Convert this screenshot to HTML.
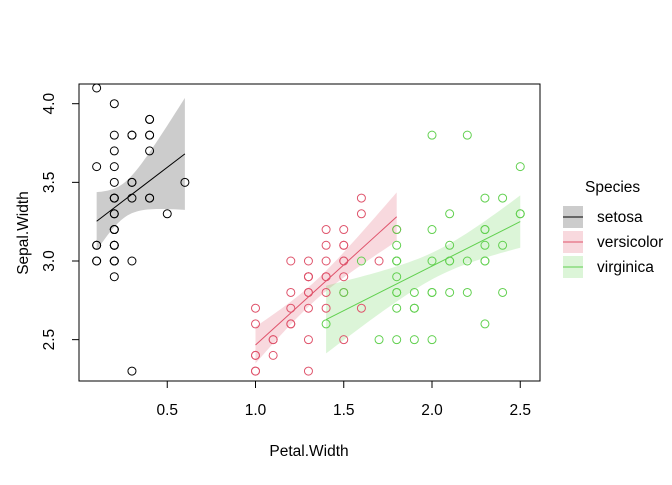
<!DOCTYPE html>
<html><head><meta charset="utf-8"><style>
body{margin:0;background:#fff;}
svg text{font-family:"Liberation Sans",Arial,sans-serif;font-size:15.5px;fill:#000;}
</style></head><body>
<svg id="chart" width="672" height="480" viewBox="0 0 672 480">
<g id="bands"></g>
<g id="lines"></g>
<g id="points"></g>
<rect x="79" y="84" width="461" height="297" fill="none" stroke="#000"/>
<g id="xaxis"></g>
<g id="yaxis"></g>
<text x="309" y="456" text-anchor="middle">Petal.Width</text>
<text transform="translate(28,233) rotate(-90)" text-anchor="middle">Sepal.Width</text>
<g id="legend">
<text x="585" y="192">Species</text>
</g>
</svg>
<script>
const species = ["setosa","versicolor","virginica"];
const colors = ["#000000","#DF536B","#61D04F"];
const fills = ["rgba(0,0,0,0.2)","rgba(223,83,107,0.22)","rgba(97,208,79,0.22)"];
const setosaPW = [0.1,0.1,0.1,0.1,0.1,0.1,
 0.2,0.2,0.2,0.2,0.2,0.2,0.2,0.2,0.2,0.2,0.2,0.2,0.2,0.2,0.2,0.2,0.2,0.2,0.2,0.2,
 0.3,0.3,0.3,0.3,0.3,0.3,0.3,
 0.4,0.4,0.4,0.4,0.4,0.4,0.4,0.5,0.6];
const setosaSW = [4.1,3.6,3.1,3.0,3.0,3.1,
 4.0,3.8,3.7,3.6,3.5,3.4,3.3,3.2,3.1,3.0,2.9,3.4,3.0,3.1,3.2,3.0,3.1,3.3,3.4,3.2,
 3.8,3.5,3.4,3.0,2.3,3.8,3.5,
 3.9,3.9,3.8,3.7,3.4,3.4,3.8,3.3,3.5];
const versiPW = [1.0,1.0,1.0,1.0,1.0,1.0,1.1,1.1,1.1,1.2,1.2,1.2,1.2,1.2,1.3,1.3,1.3,1.3,1.3,1.3,1.3,1.3,1.3,1.4,1.4,1.4,1.4,1.4,1.4,1.4,1.5,1.5,1.5,1.5,1.5,1.5,1.5,1.5,1.6,1.6,1.6,1.7,1.8];
const versiSW = [2.7,2.6,2.4,2.3,2.3,2.4,2.5,2.4,2.5,3.0,2.8,2.7,2.6,2.6,3.0,2.9,2.8,2.7,2.5,2.3,2.9,2.8,2.9,3.2,3.1,3.0,2.9,2.8,2.7,2.9,3.2,3.1,3.0,2.9,2.8,2.5,3.1,3.0,3.4,3.3,2.7,3.0,3.2];
const virgPW = [1.4,1.5,1.6,1.7,1.8,1.8,1.8,1.8,1.8,1.8,1.8,1.8,1.8,1.8,1.9,1.9,1.9,1.9,2.0,2.0,2.0,2.0,2.0,2.0,2.1,2.1,2.1,2.1,2.1,2.2,2.2,2.2,2.3,2.3,2.3,2.3,2.3,2.3,2.3,2.4,2.4,2.4,2.5,2.5,2.5];
const virgSW = [2.6,2.8,3.0,2.5,3.2,3.1,3.0,2.9,2.8,2.7,2.5,3.0,2.8,3.0,2.8,2.7,2.5,2.7,3.8,3.2,3.0,2.8,2.5,2.8,3.3,3.1,3.0,2.8,3.0,3.8,3.0,2.8,3.4,3.2,3.1,3.0,2.6,3.0,3.2,3.4,3.1,2.8,3.6,3.3,3.3];
const xTicks = [0.5,1.0,1.5,2.0,2.5];
const xTickLabels = ["0.5","1.0","1.5","2.0","2.5"];
const yTicks = [2.5,3.0,3.5,4.0];
const yTickLabels = ["2.5","3.0","3.5","4.0"];

const NS="http://www.w3.org/2000/svg";
const X = v => 79 + 176.5*v;
const Y = v => 261 - (v-3)*157.3;
function mk(tag, attrs, parent){const e=document.createElementNS(NS,tag);for(const k in attrs)e.setAttribute(k,attrs[k]);parent.appendChild(e);return e;}

const xa=document.getElementById('xaxis'), ya=document.getElementById('yaxis');
mk('line',{x1:X(xTicks[0]),x2:X(xTicks[xTicks.length-1]),y1:381,y2:381,stroke:'#000'},xa);
xTicks.forEach((t,i)=>{
  const l=mk('line',{x1:X(t),x2:X(t),y1:381,y2:388,stroke:'#000'},xa);
  
  
  const tx=mk('text',{x:X(t),y:415,'text-anchor':'middle'},xa);tx.textContent=xTickLabels[i];
  
  
});
mk('line',{x1:79,x2:79,y1:Y(yTicks[0]),y2:Y(yTicks[yTicks.length-1]),stroke:'#000'},ya);
yTicks.forEach((t,i)=>{
  const l=mk('line',{x1:72,x2:79,y1:Y(t),y2:Y(t),stroke:'#000'},ya);
  
  
  const tx=mk('text',{transform:`translate(54,${Y(t)}) rotate(-90)`,'text-anchor':'middle'},ya);tx.textContent=yTickLabels[i];
  
  
});

const groups=[[setosaPW,setosaSW],[versiPW,versiSW],[virgPW,virgSW]];
const bg=document.getElementById('bands'), lg=document.getElementById('lines'), pg=document.getElementById('points');
groups.forEach(([xs,ys],gi)=>{
  const n=xs.length, mx=xs.reduce((a,b)=>a+b)/n, my=ys.reduce((a,b)=>a+b)/n;
  let sxx=0,sxy=0;for(let i=0;i<n;i++){sxx+=(xs[i]-mx)**2;sxy+=(xs[i]-mx)*(ys[i]-my);}
  const b=sxy/sxx, a=my-b*mx;
  let sse=0;for(let i=0;i<n;i++)sse+=(ys[i]-a-b*xs[i])**2;
  const s=Math.sqrt(sse/(n-2)), t=1.96+2.4/(n-2);
  const x0=Math.min(...xs), x1=Math.max(...xs);
  const up=[],lo=[];
  for(let k=0;k<=40;k++){const x=x0+(x1-x0)*k/40, f=a+b*x, se=s*Math.sqrt(1/n+(x-mx)**2/sxx);
    up.push(X(x)+','+Y(f+t*se)); lo.unshift(X(x)+','+Y(f-t*se));}
  const band=mk('polygon',{points:up.concat(lo).join(' '),fill:fills[gi],stroke:'none'},bg);
  
  
  const ln=mk('line',{x1:X(x0),y1:Y(a+b*x0),x2:X(x1),y2:Y(a+b*x1),stroke:colors[gi],'stroke-width':1},lg);
  
  
  for(let i=0;i<n;i++){
    const c=mk('circle',{cx:X(xs[i]),cy:Y(ys[i]),r:4,fill:'none',stroke:colors[gi],'stroke-width':1},pg);
    
    
  }
});

const leg=document.getElementById('legend');
species.forEach((sp,i)=>{
  const y=217+25*i;
  const r=mk('rect',{x:563,y:y-11,width:20,height:22,fill:fills[i]},leg);
  
  
  mk('line',{x1:563,x2:583,y1:y,y2:y,stroke:colors[i]},leg);
  const tx=mk('text',{x:597,y:y+5},leg);tx.textContent=sp;
  
  
});
</script>
</body></html>
